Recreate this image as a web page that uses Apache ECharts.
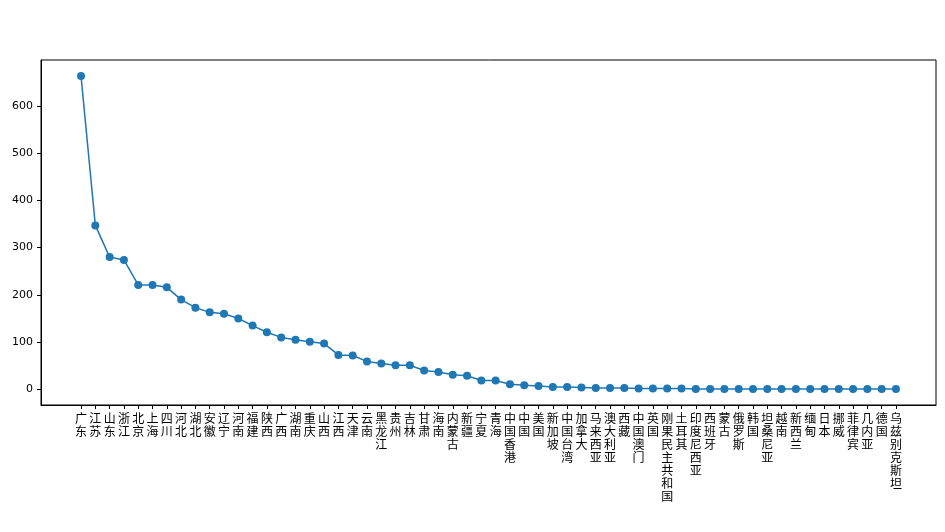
<!DOCTYPE html>
<html>
<head>
<meta charset="UTF-8">
<style>
    * { margin: 0; padding: 0; }
    body { background: #fff; }
    #main { width: 945px; height: 532px; }
</style>
</head>
<body>
<div id="main"></div>
<script src="https://cdn.jsdelivr.net/npm/echarts@6/dist/echarts.min.js"></script>
<script>
    const regions = ['广东', '江苏', '山东', '浙江', '北京', '上海', '四川', '河北', '湖北', '安徽', '辽宁', '河南', '福建', '陕西', '广西', '湖南', '重庆', '山西', '江西', '天津', '云南', '黑龙江', '贵州', '吉林', '甘肃', '海南', '内蒙古', '新疆', '宁夏', '青海', '中国香港', '中国', '美国', '新加坡', '中国台湾', '加拿大', '马来西亚', '澳大利亚', '西藏', '中国澳门', '英国', '刚果民主共和国', '土耳其', '印度尼西亚', '西班牙', '蒙古', '俄罗斯', '韩国', '坦桑尼亚', '越南', '新西兰', '缅甸', '日本', '挪威', '菲律宾', '几内亚', '德国', '乌兹别克斯坦'];
    const counts = [663, 347, 280, 274, 221, 221, 216, 190, 173, 163, 160, 150, 135, 121, 110, 105, 101, 97, 73, 72, 59, 55, 51, 51, 40, 37, 31, 29, 19, 19, 11, 9, 7, 5, 5, 4, 3, 3, 3, 2, 2, 2, 2, 1, 1, 1, 1, 1, 1, 1, 1, 1, 1, 1, 1, 1, 1, 1];
    const yTicks = [0, 100, 200, 300, 400, 500, 600];

    const xIdx = regions.map((r, i) => i);
    const chart = echarts.init(document.getElementById('main'));
    chart.setOption({
        animation: false,
        grid: { left: 41, right: 9, top: 60, bottom: 127, show: true, borderColor: '#000', borderWidth: 1 },
        xAxis: {
            type: 'value', min: -2.8, max: regions.length - 1 + 2.8,
            splitLine: { show: false },
            axisLine: { onZero: false, lineStyle: { color: '#000' } },
            axisTick: { customValues: xIdx, length: 4, lineStyle: { color: '#000' } },
            axisLabel: {
                customValues: xIdx, color: '#000', fontSize: 12, lineHeight: 13, margin: 7,
                fontFamily: 'Noto Sans CJK SC', verticalAlign: 'top',
                formatter: v => regions[Math.round(v)].split('').join('\n')
            }
        },
        yAxis: {
            type: 'value', min: -33, max: 697,
            splitLine: { show: false },
            axisLine: { show: true, onZero: false, lineStyle: { color: '#000' } },
            axisTick: { show: true, customValues: yTicks, length: 4, lineStyle: { color: '#000' } },
            axisLabel: { customValues: yTicks, color: '#000', fontSize: 11, fontFamily: 'DejaVu Sans' }
        },
        series: [{
            type: 'line',
            data: counts.map((v, i) => [i, v]),
            symbol: 'circle', symbolSize: 8,
            itemStyle: { color: '#1f77b4' },
            lineStyle: { color: '#1f77b4', width: 1.5 }
        }]
    });
</script>
</body>
</html>
